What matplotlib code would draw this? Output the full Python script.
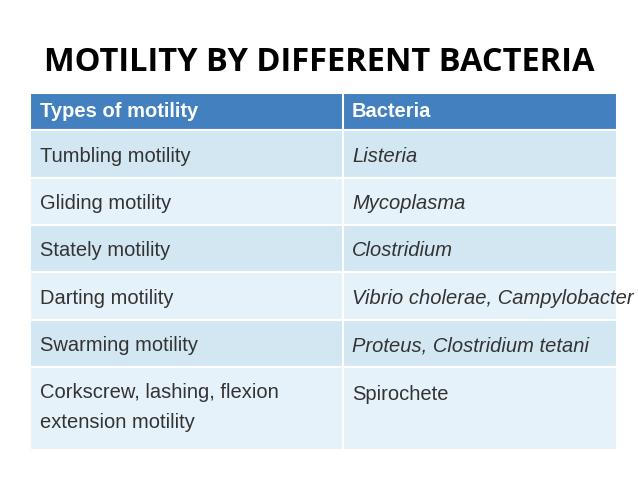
import matplotlib.pyplot as plt
from matplotlib.patches import Rectangle

title = "MOTILITY BY DIFFERENT BACTERIA"
header = ["Types of motility", "Bacteria"]
motility = ["Tumbling motility", "Gliding motility", "Stately motility",
            "Darting motility", "Swarming motility",
            "Corkscrew, lashing, flexion\nextension motility"]
bacteria = ["Listeria", "Mycoplasma", "Clostridium",
            "Vibrio cholerae, Campylobacter", "Proteus, Clostridium tetani",
            "Spirochete"]
row_edges = [93, 130, 178, 225, 272, 320, 367, 450]

fig = plt.figure(figsize=(6.38, 4.78), dpi=100)
ax = fig.add_axes([0, 0, 1, 1])
ax.set_xlim(0, 638)
ax.set_ylim(478, 0)
ax.axis('off')

ax.text(319, 62, title, ha='center', va='center', fontsize=23.5,
        fontweight='bold', family='Open Sans', color='black')

x0, xm, x1 = 30, 343, 617
fills = ['#4280bf', '#d3e7f3', '#e6f2f9']
for i in range(len(row_edges) - 1):
    top, bot = row_edges[i], row_edges[i + 1]
    c = fills[0] if i == 0 else fills[1 + (i - 1) % 2]
    ax.add_patch(Rectangle((x0, top), x1 - x0, bot - top, facecolor=c,
                           edgecolor='white', lw=1.5))
    ax.plot([xm, xm], [top, bot], color='white', lw=1.5)

ax.text(40, 111, header[0], va='center', fontsize=14.5, fontweight='bold',
        color='white', family='Liberation Sans')
ax.text(352, 111, header[1], va='center', fontsize=14.5, fontweight='bold',
        color='white', family='Liberation Sans')
for i, (m, b) in enumerate(zip(motility, bacteria)):
    top, bot = row_edges[i + 1], row_edges[i + 2]
    if i < 5:
        y = (top + bot) / 2 + 2
        ax.text(40, y, m, va='center', fontsize=14.5, color='#333333',
                family='Liberation Sans')
        ax.text(352, y, b, va='center', fontsize=14.5, color='#333333',
                family='Liberation Sans', style='italic')
    else:
        ax.text(40, top + 16, m, va='top', fontsize=14.5, color='#333333',
                family='Liberation Sans', linespacing=1.75)
        ax.text(352, top + 28, b, va='center', fontsize=14.5,
                color='#333333', family='Liberation Sans')

fig.savefig('out.png', dpi=100)
